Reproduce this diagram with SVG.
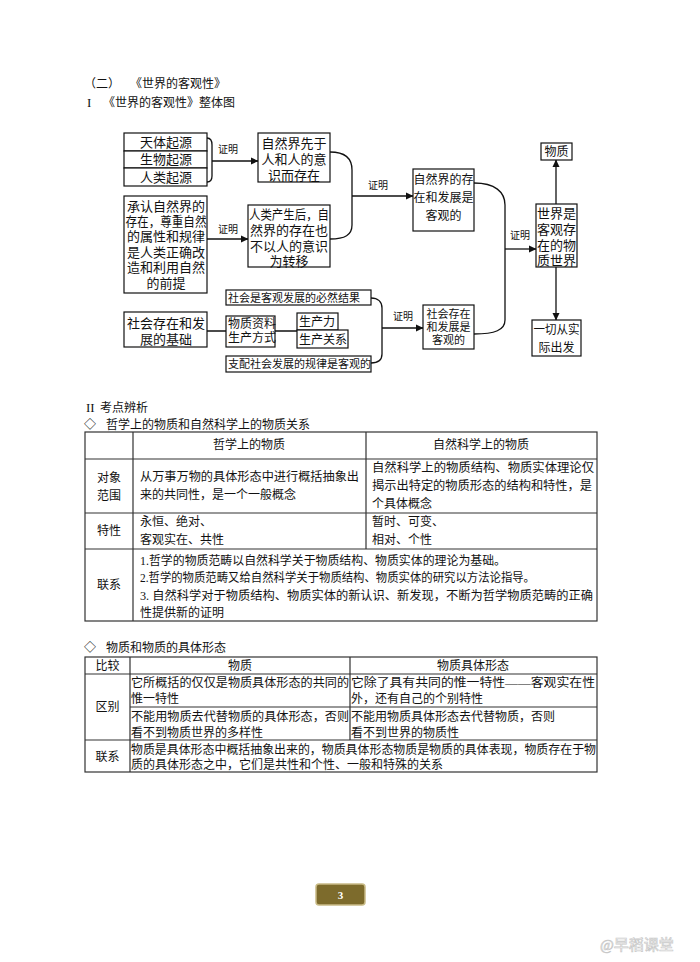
<svg xmlns="http://www.w3.org/2000/svg" width="700" height="962" viewBox="0 0 700 962">
<style>
text{font-family:"Liberation Serif","Noto Sans CJK SC",serif;fill:#111}
.t13{font-size:13px}
.t12{font-size:12px}
.t11{font-size:11px}
.lb{font-size:10px}
.c{text-anchor:middle}
.box{fill:#fff;stroke:#111;stroke-width:1.2}
.ln{fill:none;stroke:#111;stroke-width:1.3}
.tb{fill:none;stroke:#333;stroke-width:1.2}
</style>
<defs>
<marker id="ah" markerWidth="8" markerHeight="8" refX="7" refY="4" orient="auto" markerUnits="userSpaceOnUse">
<path d="M0,0.5 L7.5,4 L0,7.5 Z" fill="#111"/>
</marker>
</defs>
<rect width="700" height="962" fill="#fff"/>

<g id="title">
<text class="t12" x="84" y="88">（二）</text>
<text class="t12" x="130" y="88">《世界的客观性》</text>
<text x="87" y="107" style="font-size:13px">I</text>
<text class="t12" x="103" y="107">《世界的客观性》整体图</text>
</g>

<g id="connectors">
<path class="ln" d="M207,138 C211,138 212,141 212,145 L212,176 C212,180 211,182 207,182"/>
<path class="ln" d="M212,161 L258,161" marker-end="url(#ah)"/>
<path class="ln" d="M207,239 L248,239" marker-end="url(#ah)"/>
<path class="ln" d="M330,152 C345,152 352,158 352,170 L352,225 C352,235 345,239 330,239"/>
<path class="ln" d="M352,196 L413,196" marker-end="url(#ah)"/>
<path class="ln" d="M474,183 C495,183 505,192 505,205 L505,320 C505,330 495,334 474,334"/>
<path class="ln" d="M505,249 L536,249" marker-end="url(#ah)"/>
<path class="ln" d="M556,204 L556,160" marker-end="url(#ah)"/>
<path class="ln" d="M556,267 L556,320" marker-end="url(#ah)"/>
<path class="ln" d="M207,331 L226,331 M275,331 L297,331"/>
<path class="ln" d="M371,298 C378,298 382,302 382,308 L382,354 C382,360 378,363 371,363"/>
<path class="ln" d="M382,328 L423,328" marker-end="url(#ah)"/>
<text class="lb" x="218" y="153">证明</text>
<text class="lb" x="218" y="233">证明</text>
<text class="lb" x="368" y="189">证明</text>
<text class="lb" x="510" y="239">证明</text>
<text class="lb" x="393" y="320">证明</text>
</g>

<g id="n-origins">
<rect class="box" x="124" y="133" width="83" height="18"/>
<rect class="box" x="124" y="151" width="83" height="17"/>
<rect class="box" x="124" y="168" width="83" height="18"/>
<text class="t13 c" x="166" y="147">天体起源</text>
<text class="t13 c" x="166" y="164">生物起源</text>
<text class="t13 c" x="166" y="182">人类起源</text>
</g>

<g id="n-nature-first">
<rect class="box" x="258" y="133" width="72" height="49"/>
<text class="t13 c" x="294" y="148">自然界先于</text>
<text class="t13 c" x="294" y="164">人和人的意</text>
<text class="t13 c" x="294" y="180">识而存在</text>
</g>

<g id="n-acknowledge">
<rect class="box" x="124" y="196" width="83" height="97"/>
<text class="t13 c" x="166" y="211">承认自然界的</text>
<text class="t13 c" x="166" y="226" textLength="81" lengthAdjust="spacingAndGlyphs">存在，尊重自然</text>
<text class="t13 c" x="166" y="241">的属性和规律</text>
<text class="t13 c" x="166" y="257">是人类正确改</text>
<text class="t13 c" x="166" y="272">造和利用自然</text>
<text class="t13 c" x="166" y="288">的前提</text>
</g>

<g id="n-after-human">
<rect class="box" x="248" y="205" width="82" height="62"/>
<text class="t13 c" x="289" y="219" textLength="80" lengthAdjust="spacingAndGlyphs">人类产生后，自</text>
<text class="t13 c" x="289" y="235">然界的存在也</text>
<text class="t13 c" x="289" y="251">不以人的意识</text>
<text class="t13 c" x="289" y="266">为转移</text>
</g>

<g id="n-nature-objective">
<rect class="box" x="413" y="169" width="61" height="62"/>
<text class="t12 c" x="443.5" y="184">自然界的存</text>
<text class="t12 c" x="443.5" y="202">在和发展是</text>
<text class="t12 c" x="443.5" y="220">客观的</text>
</g>

<g id="n-world">
<rect class="box" x="536" y="204" width="41" height="63"/>
<text class="t13 c" x="556.5" y="218">世界是</text>
<text class="t13 c" x="556.5" y="234">客观存</text>
<text class="t13 c" x="556.5" y="250">在的物</text>
<text class="t13 c" x="556.5" y="265">质世界</text>
</g>

<g id="n-matter">
<rect class="box" x="541" y="143" width="31" height="17"/>
<text class="t12 c" x="556.5" y="156">物质</text>
</g>

<g id="n-practice">
<rect class="box" x="532" y="320" width="49" height="36"/>
<text class="t12 c" x="556.5" y="334" textLength="46" lengthAdjust="spacingAndGlyphs">一切从实</text>
<text class="t12 c" x="556.5" y="352">际出发</text>
</g>

<g id="n-social-inevitable">
<rect class="box" x="226" y="290" width="145" height="15"/>
<text class="t11" x="228" y="302">社会是客观发展的必然结果</text>
</g>

<g id="n-social-basis">
<rect class="box" x="124" y="312" width="83" height="35"/>
<text class="t13 c" x="166" y="328">社会存在和发</text>
<text class="t13 c" x="166" y="344">展的基础</text>
</g>

<g id="n-production">
<rect class="box" x="226" y="316" width="49" height="31"/>
<text class="t12" x="228" y="328">物质资料</text>
<text class="t12" x="228" y="342">生产方式</text>
</g>

<g id="n-forces">
<rect class="box" x="297" y="313" width="41" height="17"/>
<text class="t12" x="299" y="326">生产力</text>
</g>

<g id="n-relations">
<rect class="box" x="297" y="330" width="51" height="18"/>
<text class="t12" x="299" y="344">生产关系</text>
</g>

<g id="n-social-law">
<rect class="box" x="226" y="356" width="145" height="16"/>
<text class="t11" x="228" y="368">支配社会发展的规律是客观的</text>
</g>

<g id="n-social-objective">
<rect class="box" x="423" y="305" width="51" height="44"/>
<text class="t11 c" x="448.5" y="318">社会存在</text>
<text class="t11 c" x="448.5" y="331">和发展是</text>
<text class="t11 c" x="448.5" y="344">客观的</text>
</g>

<g id="section2">
<text x="86" y="412" style="font-size:13px">II</text>
<text class="t12" x="100" y="412">考点辨析</text>
<text class="t12" x="84" y="429">◇</text>
<text class="t12" x="106" y="429">哲学上的物质和自然科学上的物质关系</text>
</g>

<g id="table1">
<rect class="tb" x="85" y="432" width="512" height="189"/>
<path class="tb" d="M85,459 H597 M85,513 H597 M85,549 H597 M133,432 V621 M366,432 V549"/>
<text class="t12 c" x="249" y="449">哲学上的物质</text>
<text class="t12 c" x="481" y="449">自然科学上的物质</text>
<text class="t12 c" x="109" y="482">对象</text>
<text class="t12 c" x="109" y="500">范围</text>
<text class="t12" x="140" y="481" textLength="219" lengthAdjust="spacingAndGlyphs">从万事万物的具体形态中进行概括抽象出</text>
<text class="t12" x="140" y="499">来的共同性，是一个一般概念</text>
<text class="t12" x="372" y="472" textLength="222" lengthAdjust="spacingAndGlyphs">自然科学上的物质结构、物质实体理论仅</text>
<text class="t12" x="372" y="490" textLength="220" lengthAdjust="spacingAndGlyphs">揭示出特定的物质形态的结构和特性，是</text>
<text class="t12" x="372" y="508">个具体概念</text>
<text class="t12 c" x="109" y="535">特性</text>
<text class="t12" x="140" y="526">永恒、绝对、</text>
<text class="t12" x="140" y="544">客观实在、共性</text>
<text class="t12" x="372" y="526">暂时、可变、</text>
<text class="t12" x="372" y="544">相对、个性</text>
<text class="t12 c" x="109" y="589">联系</text>
<text class="t12" x="140" y="565" textLength="366" lengthAdjust="spacingAndGlyphs">1.哲学的物质范畴以自然科学关于物质结构、物质实体的理论为基础。</text>
<text class="t12" x="140" y="582" textLength="395" lengthAdjust="spacingAndGlyphs">2.哲学的物质范畴又给自然科学关于物质结构、物质实体的研究以方法论指导。</text>
<text class="t12" x="140" y="600" textLength="453" lengthAdjust="spacingAndGlyphs">3. 自然科学对于物质结构、物质实体的新认识、新发现，不断为哲学物质范畴的正确</text>
<text class="t12" x="140" y="617">性提供新的证明</text>
</g>

<g id="section3">
<text class="t12" x="84" y="652">◇</text>
<text class="t12" x="106" y="652">物质和物质的具体形态</text>
</g>

<g id="table2">
<rect class="tb" x="85" y="657" width="512" height="115"/>
<path class="tb" d="M85,674 H597 M130,707 H597 M85,740 H597 M130,657 V772 M350,657 V740"/>
<text class="t12 c" x="107.5" y="670">比较</text>
<text class="t12 c" x="240" y="670">物质</text>
<text class="t12 c" x="473" y="670">物质具体形态</text>
<text class="t12 c" x="107.5" y="711">区别</text>
<text class="t12" x="131" y="687" textLength="218" lengthAdjust="spacingAndGlyphs">它所概括的仅仅是物质具体形态的共同的</text>
<text class="t12" x="131" y="703">惟一特性</text>
<text class="t12" x="131" y="721" textLength="218" lengthAdjust="spacingAndGlyphs">不能用物质去代替物质的具体形态，否则</text>
<text class="t12" x="131" y="737">看不到物质世界的多样性</text>
<text class="t12" x="351" y="687" textLength="244" lengthAdjust="spacingAndGlyphs">它除了具有共同的惟一特性——客观实在性</text>
<text class="t12" x="351" y="703">外，还有自己的个别特性</text>
<text class="t12" x="351" y="721">不能用物质具体形态去代替物质，否则</text>
<text class="t12" x="351" y="737">看不到世界的物质性</text>
<text class="t12 c" x="107.5" y="761">联系</text>
<text class="t12" x="131" y="754" textLength="465" lengthAdjust="spacingAndGlyphs">物质是具体形态中概括抽象出来的，物质具体形态物质是物质的具体表现，物质存在于物</text>
<text class="t12" x="131" y="769">质的具体形态之中，它们是共性和个性、一般和特殊的关系</text>
</g>

<g id="page-number">
<rect x="316" y="884" width="49" height="21" rx="3" fill="#7d6b2c" stroke="#c9bb86" stroke-width="1.5"/>
<text x="340.5" y="899" text-anchor="middle" style="font-size:11px;font-weight:bold;fill:#fff">3</text>
</g>

<g id="watermark">
<text x="600" y="950" style="font-size:15px;fill:#fff;stroke:#c8c8c8;stroke-width:0.7">@早稻课堂</text>
</g>
</svg>
